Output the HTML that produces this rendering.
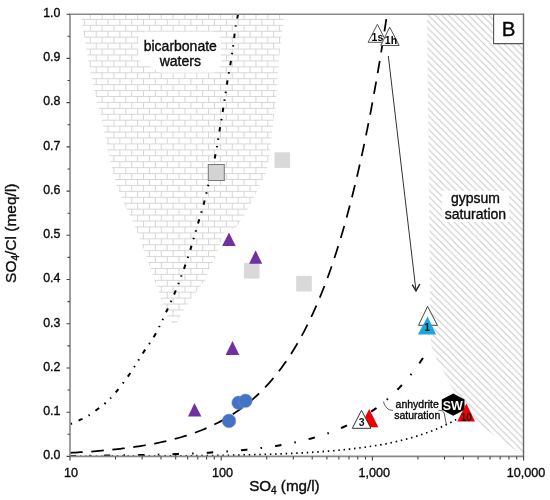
<!DOCTYPE html><html><head><meta charset="utf-8"><style>html,body{margin:0;padding:0;background:#fff;}svg{display:block;}</style></head><body>
<svg width="550" height="500" viewBox="0 0 550 500" font-family="'Liberation Sans', Arial, sans-serif">
<style>text:not([font-weight]){stroke:#000;stroke-width:0.35px;}</style>
<defs>
<pattern id="brick" patternUnits="userSpaceOnUse" x="83.9" y="18.9" width="11.83" height="11.86"><path d="M0,0.5 H11.83 M0,6.43 H11.83 M0.5,0 V5.93 M6.415,5.93 V11.86" stroke="#d6d6d6" stroke-width="1" fill="none"/></pattern>
<pattern id="hatch" patternUnits="userSpaceOnUse" x="4.5" y="0" width="6.7" height="6.7"><path d="M-1,-1 L7.7,7.7 M-7.7,-1 L1,7.7 M5.7,-1 L14.4,7.7" stroke="#c8c8c8" stroke-width="1" fill="none"/></pattern>
<clipPath id="plot"><rect x="70.0" y="14.2" width="453.5" height="442.2"/></clipPath>
</defs>
<path d="M81,14 L83,30 L86.5,50 L90,70 L94,90 L98,105 L102,120 L106,140 L110,160 L115,180 L120,195 L133,222 L143.8,249 L153,276 L162.7,303 L168,316.6 L172,323 L177,323 L180,316 L184,310 L190,300 L198,290 L205,280 L209,270 L214,260 L218,250 L221,240 L226,230 L236,228 L243,217 L249.5,206 L255,195 L260.5,184 L266,173 L268.4,162 L269.6,156 L271,144 L272.2,132 L273.6,119 L275.4,106 L276.6,93 L277.6,80 L278.4,68 L279.4,55 L281,42 L282.6,29 L284,14 Z" fill="url(#brick)"/>
<path d="M144,31.8 L214,31.8 L221,37.8 L221,66 L214.5,72.5 L160,72.5 L150,66.5 L138.3,60 L138.3,37.8 Z" fill="#fff"/>
<path d="M427,14.2 L430.5,330 L431,345 L436.8,359.4 L444.5,373.4 L450.8,386 L462,404 L475.3,420.8 L487.2,430.2 L502.5,440.4 L523.5,456.4 L523.5,14.2 Z" fill="url(#hatch)"/>
<rect x="442" y="191" width="67" height="31" fill="#fff"/>
<g clip-path="url(#plot)" fill="none" stroke="#000" stroke-width="2">
<path d="M238.40,13.00 C237.95,15.13 236.57,20.35 235.70,25.80 C234.83,31.25 234.05,39.50 233.20,45.70 C232.35,51.90 231.60,56.85 230.60,63.00 C229.60,69.15 228.37,75.43 227.20,82.60 C226.03,89.77 224.83,98.23 223.60,106.00 C222.37,113.77 221.10,121.37 219.80,129.20 C218.50,137.03 217.52,144.53 215.80,153.00 C214.08,161.47 211.47,171.68 209.50,180.00 C207.53,188.32 205.82,195.97 204.00,202.90 C202.18,209.83 200.37,215.53 198.60,221.60 C196.83,227.67 195.18,233.32 193.40,239.30 C191.62,245.28 189.92,251.35 187.90,257.50 C185.88,263.65 183.45,270.40 181.30,276.20 C179.15,282.00 177.20,287.02 175.00,292.30 C172.80,297.58 171.35,300.95 168.10,307.90 C164.85,314.85 159.68,326.48 155.50,334.00 C151.32,341.52 147.25,346.42 143.00,353.00 C138.75,359.58 134.50,367.00 130.00,373.50 C125.50,380.00 120.27,386.93 116.00,392.00 C111.73,397.07 108.98,399.97 104.40,403.90 C99.82,407.83 92.65,412.88 88.50,415.60 C84.35,418.32 82.58,418.75 79.50,420.20 C76.42,421.65 71.58,423.62 70.00,424.30" stroke-dasharray="4.4 6.95 1.5 6.9 4.4 7.0 1.5 6.3 1.5 6.84" stroke-dashoffset="-1.3"/>
<path d="M70.00,452.86 L72.64,452.72 L75.28,452.57 L77.93,452.41 L80.57,452.24 L83.21,452.07 L85.85,451.90 L88.49,451.71 L91.14,451.52 L93.78,451.32 L96.42,451.11 L99.06,450.89 L101.71,450.67 L104.35,450.43 L106.99,450.19 L109.63,449.93 L112.27,449.67 L114.92,449.39 L117.56,449.10 L120.20,448.80 L122.84,448.49 L125.48,448.16 L128.13,447.83 L130.77,447.47 L133.41,447.11 L136.05,446.73 L138.69,446.33 L141.34,445.92 L143.98,445.49 L146.62,445.04 L149.26,444.57 L151.91,444.09 L154.55,443.58 L157.19,443.05 L159.83,442.51 L162.47,441.94 L165.12,441.34 L167.76,440.72 L170.40,440.08 L173.04,439.41 L175.68,438.71 L178.33,437.99 L180.97,437.23 L183.61,436.44 L186.25,435.62 L188.89,434.77 L191.54,433.88 L194.18,432.96 L196.82,432.00 L199.46,430.99 L202.11,429.95 L204.75,428.86 L207.39,427.73 L210.03,426.56 L212.67,425.33 L215.32,424.06 L217.96,422.73 L220.60,421.35 L223.24,419.91 L225.88,418.41 L228.53,416.85 L231.17,415.22 L233.81,413.53 L236.45,411.77 L239.09,409.94 L241.74,408.03 L244.38,406.05 L247.02,403.98 L249.66,401.83 L252.31,399.59 L254.95,397.26 L257.59,394.83 L260.23,392.30 L262.87,389.67 L265.52,386.93 L268.16,384.08 L270.80,381.11 L273.44,378.02 L276.08,374.80 L278.73,371.45 L281.37,367.96 L284.01,364.33 L286.65,360.55 L289.29,356.61 L291.94,352.52 L294.58,348.25 L297.22,343.81 L299.86,339.19 L302.51,334.38 L305.15,329.37 L307.79,324.15 L310.43,318.72 L313.07,313.07 L315.72,307.18 L318.36,301.06 L321.00,294.68 L323.64,288.04 L326.28,281.13 L328.93,273.93 L331.57,266.44 L334.21,258.64 L336.85,250.52 L339.49,242.07 L342.14,233.27 L344.78,224.11 L347.42,214.57 L350.06,204.64 L352.71,194.31 L355.35,183.55 L357.99,172.35 L360.63,160.68 L363.27,148.54 L365.92,135.90 L368.56,122.74 L371.20,109.05 L373.84,94.78 L376.48,79.94 L379.13,64.48 L381.77,48.39 L384.41,31.64 L387.05,14.20" stroke-dasharray="12.5 8.615" stroke-dashoffset="-0.25" stroke-width="1.75"/>
<path d="M70.00,455.94 L72.94,455.92 L75.88,455.90 L78.82,455.88 L81.77,455.86 L84.71,455.83 L87.65,455.80 L90.59,455.78 L93.53,455.75 L96.47,455.72 L99.42,455.69 L102.36,455.65 L105.30,455.62 L108.24,455.58 L111.18,455.55 L114.12,455.51 L117.07,455.47 L120.01,455.42 L122.95,455.38 L125.89,455.33 L128.83,455.28 L131.77,455.23 L134.72,455.18 L137.66,455.12 L140.60,455.07 L143.54,455.00 L146.48,454.94 L149.42,454.87 L152.37,454.80 L155.31,454.73 L158.25,454.65 L161.19,454.57 L164.13,454.49 L167.07,454.40 L170.02,454.31 L172.96,454.22 L175.90,454.12 L178.84,454.01 L181.78,453.90 L184.72,453.79 L187.67,453.67 L190.61,453.54 L193.55,453.41 L196.49,453.27 L199.43,453.13 L202.37,452.98 L205.32,452.82 L208.26,452.66 L211.20,452.49 L214.14,452.31 L217.08,452.12 L220.02,451.93 L222.97,451.72 L225.91,451.51 L228.85,451.28 L231.79,451.05 L234.73,450.80 L237.67,450.55 L240.62,450.28 L243.56,450.00 L246.50,449.70 L249.44,449.40 L252.38,449.08 L255.32,448.74 L258.27,448.39 L261.21,448.02 L264.15,447.64 L267.09,447.24 L270.03,446.82 L272.97,446.38 L275.92,445.92 L278.86,445.44 L281.80,444.94 L284.74,444.41 L287.68,443.86 L290.62,443.29 L293.57,442.69 L296.51,442.06 L299.45,441.40 L302.39,440.72 L305.33,440.00 L308.27,439.25 L311.22,438.46 L314.16,437.64 L317.10,436.78 L320.04,435.88 L322.98,434.94 L325.92,433.96 L328.87,432.93 L331.81,431.85 L334.75,430.73 L337.69,429.55 L340.63,428.32 L343.57,427.04 L346.52,425.69 L349.46,424.28 L352.40,422.81 L355.34,421.27 L358.28,419.66 L361.22,417.98 L364.17,416.22 L367.11,414.38 L370.05,412.45 L372.99,410.44 L375.93,408.34 L378.87,406.13 L381.82,403.83 L384.76,401.42 L387.70,398.90 L390.64,396.27 L393.58,393.51 L396.52,390.63 L399.47,387.62 L402.41,384.47 L405.35,381.17 L408.29,377.73 L411.23,374.12 L414.17,370.35 L417.12,366.41 L420.06,362.29 L423.00,357.97" stroke-dasharray="6.5 13.16 1.5 13.16" stroke-dashoffset="0.5"/>
<path d="M70.00,456.30 L73.22,456.29 L76.44,456.29 L79.66,456.28 L82.88,456.27 L86.10,456.27 L89.33,456.26 L92.55,456.25 L95.77,456.25 L98.99,456.24 L102.21,456.23 L105.43,456.22 L108.65,456.21 L111.87,456.21 L115.09,456.20 L118.31,456.18 L121.54,456.17 L124.76,456.16 L127.98,456.15 L131.20,456.14 L134.42,456.13 L137.64,456.11 L140.86,456.10 L144.08,456.08 L147.30,456.07 L150.52,456.05 L153.74,456.03 L156.97,456.01 L160.19,455.99 L163.41,455.97 L166.63,455.95 L169.85,455.93 L173.07,455.90 L176.29,455.88 L179.51,455.85 L182.73,455.83 L185.95,455.80 L189.17,455.77 L192.40,455.74 L195.62,455.70 L198.84,455.67 L202.06,455.63 L205.28,455.59 L208.50,455.55 L211.72,455.51 L214.94,455.46 L218.16,455.42 L221.38,455.37 L224.61,455.31 L227.83,455.26 L231.05,455.20 L234.27,455.14 L237.49,455.08 L240.71,455.01 L243.93,454.94 L247.15,454.87 L250.37,454.79 L253.59,454.71 L256.81,454.63 L260.04,454.54 L263.26,454.45 L266.48,454.35 L269.70,454.24 L272.92,454.14 L276.14,454.02 L279.36,453.90 L282.58,453.78 L285.80,453.64 L289.02,453.51 L292.24,453.36 L295.47,453.21 L298.69,453.05 L301.91,452.88 L305.13,452.70 L308.35,452.52 L311.57,452.32 L314.79,452.11 L318.01,451.90 L321.23,451.67 L324.45,451.44 L327.68,451.19 L330.90,450.92 L334.12,450.65 L337.34,450.36 L340.56,450.06 L343.78,449.74 L347.00,449.40 L350.22,449.05 L353.44,448.68 L356.66,448.29 L359.88,447.88 L363.11,447.46 L366.33,447.01 L369.55,446.53 L372.77,446.04 L375.99,445.52 L379.21,444.97 L382.43,444.40 L385.65,443.79 L388.87,443.16 L392.09,442.49 L395.32,441.79 L398.54,441.06 L401.76,440.29 L404.98,439.48 L408.20,438.63 L411.42,437.73 L414.64,436.80 L417.86,435.81 L421.08,434.78 L424.30,433.69 L427.52,432.55 L430.75,431.35 L433.97,430.09 L437.19,428.76 L440.41,427.38 L443.63,425.92 L446.85,424.38 L450.07,422.77 L453.29,421.08 L456.51,419.31" stroke-dasharray="1.5 3.775" stroke-dashoffset="0.6" stroke-width="1.7"/>
</g>
<rect x="493.6" y="14.2" width="29.899999999999977" height="29.400000000000002" fill="#fff"/>
<path d="M523.5,14.2 H70.0 V456.4 H523.5" fill="none" stroke="#888" stroke-width="1.6"/>
<path d="M523.5,13.399999999999999 V457.2" fill="none" stroke="#666" stroke-width="1.4"/>
<path d="M493.6,14.2 V43.6 H523.5" fill="none" stroke="#555" stroke-width="1.1"/>
<text x="508.6" y="36.1" font-size="20.5" text-anchor="middle" fill="#000">B</text>
<path d="M66.5,456.40 H70.0 M67.5,434.29 H70.0 M66.5,412.18 H70.0 M67.5,390.07 H70.0 M66.5,367.96 H70.0 M67.5,345.85 H70.0 M66.5,323.74 H70.0 M67.5,301.63 H70.0 M66.5,279.52 H70.0 M67.5,257.41 H70.0 M66.5,235.30 H70.0 M67.5,213.19 H70.0 M66.5,191.08 H70.0 M67.5,168.97 H70.0 M66.5,146.86 H70.0 M67.5,124.75 H70.0 M66.5,102.64 H70.0 M67.5,80.53 H70.0 M66.5,58.42 H70.0 M67.5,36.31 H70.0 M66.5,14.20 H70.0 M70.00,456.4 V460.4 M115.52,456.4 V459.59999999999997 M142.14,456.4 V459.59999999999997 M161.03,456.4 V459.59999999999997 M175.68,456.4 V459.59999999999997 M187.66,456.4 V459.59999999999997 M197.78,456.4 V459.59999999999997 M206.55,456.4 V459.59999999999997 M214.28,456.4 V459.59999999999997 M221.20,456.4 V460.4 M266.72,456.4 V459.59999999999997 M293.34,456.4 V459.59999999999997 M312.23,456.4 V459.59999999999997 M326.88,456.4 V459.59999999999997 M338.86,456.4 V459.59999999999997 M348.98,456.4 V459.59999999999997 M357.75,456.4 V459.59999999999997 M365.48,456.4 V459.59999999999997 M372.40,456.4 V460.4 M417.92,456.4 V459.59999999999997 M444.54,456.4 V459.59999999999997 M463.43,456.4 V459.59999999999997 M478.08,456.4 V459.59999999999997 M490.06,456.4 V459.59999999999997 M500.18,456.4 V459.59999999999997 M508.95,456.4 V459.59999999999997 M516.68,456.4 V459.59999999999997 M523.60,456.4 V460.4" stroke="#444" stroke-width="1.1" fill="none"/>
<text x="60.4" y="459.20" font-size="12.4" text-anchor="end" fill="#111">0.0</text>
<text x="60.4" y="414.98" font-size="12.4" text-anchor="end" fill="#111">0.1</text>
<text x="60.4" y="370.76" font-size="12.4" text-anchor="end" fill="#111">0.2</text>
<text x="60.4" y="326.54" font-size="12.4" text-anchor="end" fill="#111">0.3</text>
<text x="60.4" y="282.32" font-size="12.4" text-anchor="end" fill="#111">0.4</text>
<text x="60.4" y="238.10" font-size="12.4" text-anchor="end" fill="#111">0.5</text>
<text x="60.4" y="193.88" font-size="12.4" text-anchor="end" fill="#111">0.6</text>
<text x="60.4" y="149.66" font-size="12.4" text-anchor="end" fill="#111">0.7</text>
<text x="60.4" y="105.44" font-size="12.4" text-anchor="end" fill="#111">0.8</text>
<text x="60.4" y="61.22" font-size="12.4" text-anchor="end" fill="#111">0.9</text>
<text x="60.4" y="17.00" font-size="12.4" text-anchor="end" fill="#111">1.0</text>
<text x="71" y="476.6" font-size="12.6" text-anchor="middle" fill="#111">10</text>
<text x="222.5" y="476.6" font-size="12.6" text-anchor="middle" fill="#111">100</text>
<text x="374.3" y="476.6" font-size="12.6" text-anchor="middle" fill="#111">1,000</text>
<text x="526" y="476.6" font-size="12.6" text-anchor="middle" fill="#111">10,000</text>
<text x="284.4" y="491" font-size="15.2" text-anchor="middle" fill="#111">SO<tspan font-size="10" dy="3">4</tspan><tspan dy="-3"> (mg/l)</tspan></text>
<text transform="translate(15.6,233.2) rotate(-90)" font-size="15.5" text-anchor="middle" fill="#111">SO<tspan font-size="10" dy="3">4</tspan><tspan dy="-3">/Cl (meq/l)</tspan></text>
<text x="180.3" y="51" font-size="14" text-anchor="middle" fill="#111">bicarbonate</text>
<text x="180.3" y="66.4" font-size="14" text-anchor="middle" fill="#111">waters</text>
<text x="475.4" y="203" font-size="14" text-anchor="middle" fill="#111">gypsum</text>
<text x="475.4" y="218.8" font-size="14" text-anchor="middle" fill="#111">saturation</text>
<rect x="208.3" y="164.5" width="16" height="16" fill="#d4d4d4" stroke="#777" stroke-width="1"/>
<rect x="274.5" y="152.3" width="15.6" height="15.6" fill="#d9d9d9"/>
<rect x="243.9" y="263" width="15.6" height="15.6" fill="#d9d9d9"/>
<rect x="296.2" y="275.9" width="15.6" height="15.6" fill="#d9d9d9"/>
<path d="M229,232.6 L235.7,246 L222.1,246 Z" fill="#7030a0"/>
<path d="M255.6,250.3 L262.2,263.7 L249.1,263.7 Z" fill="#7030a0"/>
<path d="M232.5,340.9 L239.3,354.9 L225.6,354.9 Z" fill="#7030a0"/>
<path d="M194.5,403 L201.4,416.4 L188,416.4 Z" fill="#7030a0"/>
<circle cx="229" cy="420.9" r="6.8" fill="#4472c4" stroke="#6f93d6" stroke-width="0.5"/>
<circle cx="238.6" cy="402.8" r="6.8" fill="#4472c4" stroke="#6f93d6" stroke-width="0.5"/>
<circle cx="245.5" cy="400.8" r="6.8" fill="#4472c4" stroke="#6f93d6" stroke-width="0.5"/>
<path d="M388.3,56 L416,290.8" stroke="#333" stroke-width="1" fill="none"/>
<path d="M412.2,284.6 L416,290.8 L419.8,284" stroke="#222" stroke-width="1.5" fill="none"/>
<path d="M377.4,24.3 L386.6,42.3 L368.1,42.3 Z" fill="#fff" stroke="#555" stroke-width="1"/>
<text x="377.4" y="40.6" font-size="10.5" font-weight="bold" text-anchor="middle" fill="#000">1s</text>
<path d="M389.7,27.2 L399.2,45.5 L380.8,45.5 Z" fill="#fff" stroke="#555" stroke-width="1"/>
<text x="391" y="44.2" font-size="10.5" font-weight="bold" text-anchor="middle" fill="#000">1h</text>
<path d="M427.6,306.4 L437.4,325.3 L418.5,325.3 Z" fill="#fff" stroke="#444" stroke-width="1"/>
<path d="M427.6,316.4 L436.1,334.4 L417.9,334.4 Z" fill="#1aa6e0"/>
<text x="427.2" y="331" font-size="10.5" font-weight="bold" text-anchor="middle" fill="#111">1</text>
<path d="M369.2,409 L378.4,427.2 L360,427.2 Z" fill="#f00000"/>
<path d="M361.5,410.3 L370.9,428.3 L352.3,428.3 Z" fill="#fff" stroke="#333" stroke-width="1"/>
<text x="361.6" y="426" font-size="10.5" font-weight="bold" text-anchor="middle" fill="#111">3</text>
<path d="M383.4,401.6 C384.5,405 386,408 389,409.6 C390.5,410.3 392,410.4 393,410.4" stroke="#333" stroke-width="0.8" fill="none"/>
<path d="M438.6,410.3 C442,410.3 443.6,411 444.4,414 C445,417 445.5,421 446.4,424.4" stroke="#333" stroke-width="0.8" fill="none"/>
<text x="417.2" y="407.7" font-size="10.5" text-anchor="middle" fill="#111">anhydrite</text>
<text x="417.2" y="419.4" font-size="10.5" text-anchor="middle" fill="#111">saturation</text>
<path d="M453.2,393.6 L464.5,399.4 L464.5,409.8 L453.2,415.7 L441.8,409.8 L441.8,399.4 Z" fill="#000"/>
<path d="M466.4,403.5 L475,421.6 L457.3,421.6 Z" fill="#f00000"/>
<text x="452.8" y="410.4" font-size="12.5" font-weight="bold" text-anchor="middle" fill="#fff">SW</text>
<text x="466.2" y="421.3" font-size="10" font-weight="bold" text-anchor="middle" fill="#111">10</text>
</svg></body></html>
